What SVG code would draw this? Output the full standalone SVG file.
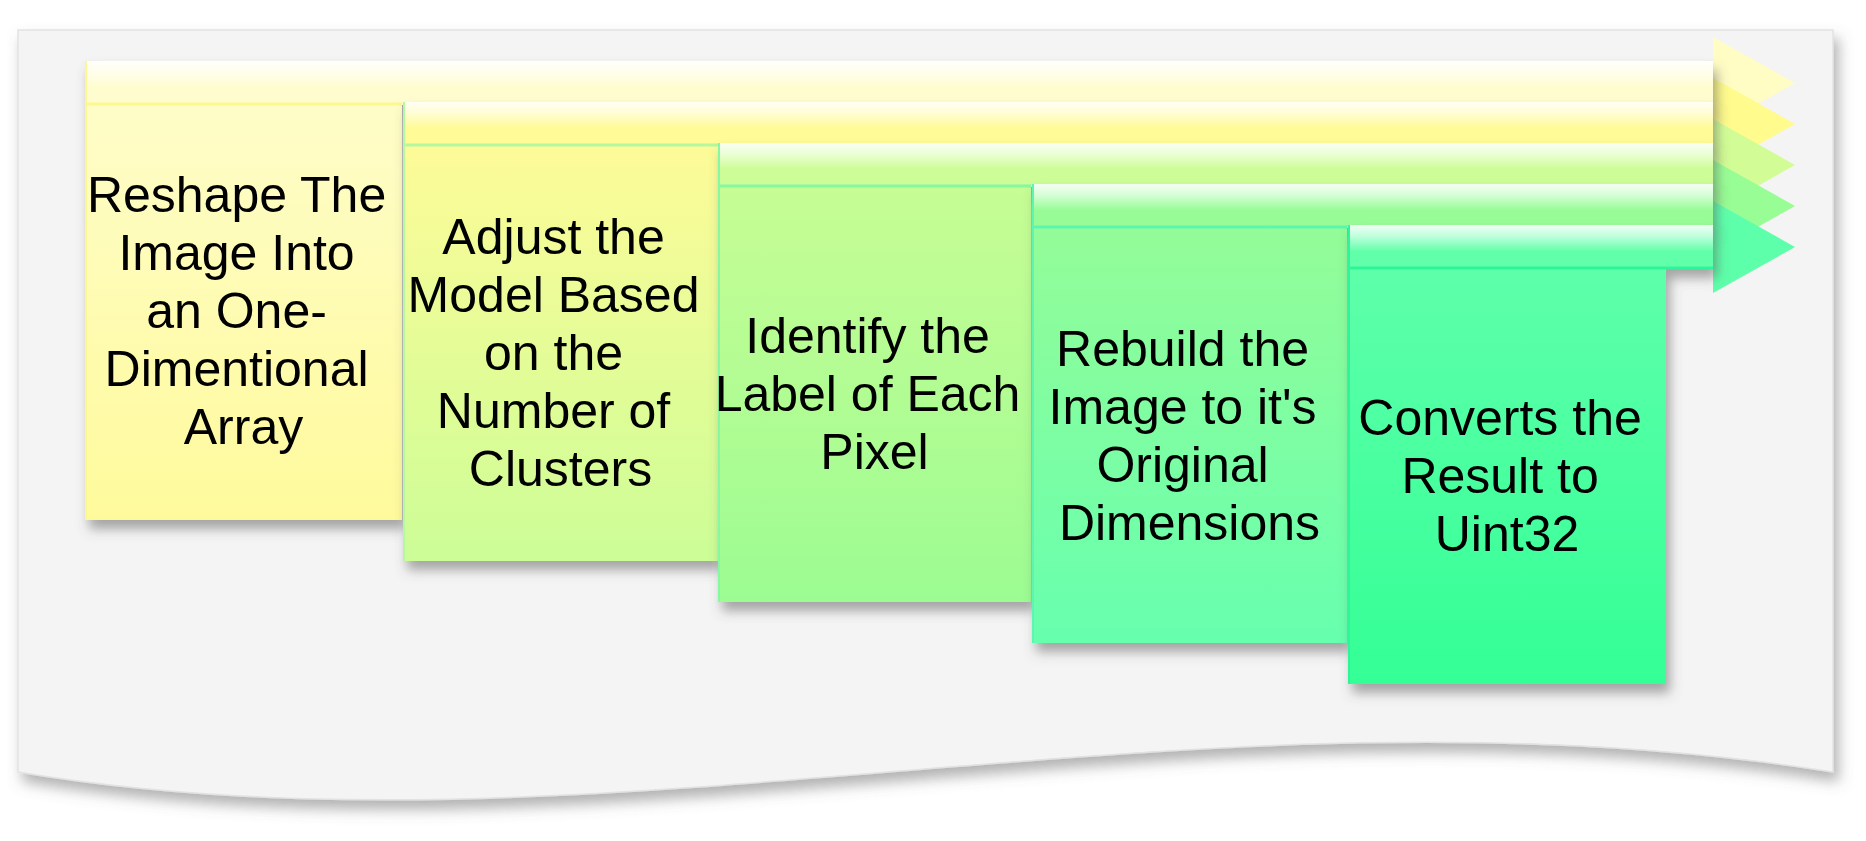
<svg xmlns="http://www.w3.org/2000/svg" width="1866" height="841" viewBox="0 0 1866 841">
  <defs>
    <style>
      .lbl { font-family: "Liberation Sans", Arial, sans-serif; font-size: 50px; fill: #000; text-anchor: middle; }
      .sep { stroke-width: 3; }
    </style>
    <filter id="panelShadow" x="-5%" y="-5%" width="110%" height="115%">
      <feDropShadow dx="5" dy="9" stdDeviation="7" flood-color="#666" flood-opacity="0.5"/>
    </filter>
    <filter id="boxShadow" x="-5%" y="-5%" width="115%" height="115%">
      <feDropShadow dx="4" dy="9" stdDeviation="6" flood-color="#555" flood-opacity="0.5"/>
    </filter>
    <linearGradient id="sheen" x1="0" y1="0" x2="0" y2="1">
      <stop offset="0" stop-color="#fff" stop-opacity="0.9"/>
      <stop offset="0.25" stop-color="#fff" stop-opacity="0.6"/>
      <stop offset="0.6" stop-color="#fff" stop-opacity="0"/>
    </linearGradient>
    <linearGradient id="g1" x1="0" y1="0" x2="0" y2="1">
      <stop offset="0" stop-color="#fefdc8"/>
      <stop offset="1" stop-color="#fefa9c"/>
    </linearGradient>
    <linearGradient id="g2" x1="0" y1="0" x2="0" y2="1">
      <stop offset="0" stop-color="#fdfb98"/>
      <stop offset="1" stop-color="#ccfd96"/>
    </linearGradient>
    <linearGradient id="g3" x1="0" y1="0" x2="0" y2="1">
      <stop offset="0" stop-color="#c6fd94"/>
      <stop offset="1" stop-color="#9cfc92"/>
    </linearGradient>
    <linearGradient id="g4" x1="0" y1="0" x2="0" y2="1">
      <stop offset="0" stop-color="#94fc98"/>
      <stop offset="1" stop-color="#66ffae"/>
    </linearGradient>
    <linearGradient id="g5" x1="0" y1="0" x2="0" y2="1">
      <stop offset="0" stop-color="#5effaa"/>
      <stop offset="1" stop-color="#34ff96"/>
    </linearGradient>
  </defs>

  <rect width="1866" height="841" fill="#ffffff"/>

  <g id="panel">
    <path d="M18,30 H1833 V772 C1200,670 600,870 18,772 Z" fill="#f4f4f4" stroke="#e2e2e2" stroke-width="1.5" filter="url(#panelShadow)"/>
  </g>

  <g id="connectors">
    <polygon points="1713,37 1795,83 1713,129" fill="#fffcc4"/>
    <polygon points="1713,78 1795,124 1713,170" fill="#fffb8c"/>
    <polygon points="1713,119 1795,165 1713,211" fill="#d2fd96"/>
    <polygon points="1713,160 1795,206 1713,252" fill="#98fd94"/>
    <polygon points="1713,201 1795,247 1713,293" fill="#5effaa"/>
  </g>

  <g id="node1">
    <path d="M85,61 H1713 V105 H402 V520 H85 Z" fill="#fffdcf" filter="url(#boxShadow)"/>
    <rect x="85" y="105" width="317" height="415" fill="url(#g1)"/>
    <rect x="85" y="61" width="1628" height="44" fill="url(#sheen)"/>
    <line class="sep" x1="85" y1="104" x2="402" y2="104" stroke="#fbf88e"/>
    <line x1="86" y1="61" x2="86" y2="520" stroke="#fbf88e" stroke-width="2"/>
    <text class="lbl" x="243.5" y="212">
      <tspan x="243.5">Reshape The</tspan>
      <tspan x="243.5" dy="58">Image Into</tspan>
      <tspan x="243.5" dy="58">an One-</tspan>
      <tspan x="243.5" dy="58">Dimentional</tspan>
      <tspan x="243.5" dy="58">Array</tspan>
    </text>
  </g>

  <g id="node2">
    <path d="M403,102 H1713 V146 H718 V561 H403 Z" fill="#fffb96" filter="url(#boxShadow)"/>
    <rect x="403" y="146" width="315" height="415" fill="url(#g2)"/>
    <rect x="403" y="102" width="1310" height="44" fill="url(#sheen)"/>
    <line class="sep" x1="403" y1="145" x2="718" y2="145" stroke="#b6f89e"/>
    <line x1="404" y1="102" x2="404" y2="561" stroke="#b6f89e" stroke-width="2"/>
    <text class="lbl" x="560.5" y="254">
      <tspan x="560.5">Adjust the</tspan>
      <tspan x="560.5" dy="58">Model Based</tspan>
      <tspan x="560.5" dy="58">on the</tspan>
      <tspan x="560.5" dy="58">Number of</tspan>
      <tspan x="560.5" dy="58">Clusters</tspan>
    </text>
  </g>

  <g id="node3">
    <path d="M718,143 H1713 V187 H1031 V602 H718 Z" fill="#cdfd96" filter="url(#boxShadow)"/>
    <rect x="718" y="187" width="313" height="415" fill="url(#g3)"/>
    <rect x="718" y="143" width="995" height="44" fill="url(#sheen)"/>
    <line class="sep" x1="718" y1="186" x2="1031" y2="186" stroke="#86f8a2"/>
    <line x1="719" y1="143" x2="719" y2="602" stroke="#86f8a2" stroke-width="2"/>
    <text class="lbl" x="874.5" y="353">
      <tspan x="874.5">Identify the</tspan>
      <tspan x="874.5" dy="58">Label of Each</tspan>
      <tspan x="874.5" dy="58">Pixel</tspan>
    </text>
  </g>

  <g id="node4">
    <path d="M1032,184 H1713 V228 H1347 V643 H1032 Z" fill="#98fc96" filter="url(#boxShadow)"/>
    <rect x="1032" y="228" width="315" height="415" fill="url(#g4)"/>
    <rect x="1032" y="184" width="681" height="44" fill="url(#sheen)"/>
    <line class="sep" x1="1032" y1="227" x2="1347" y2="227" stroke="#5cf6b0"/>
    <line x1="1033" y1="184" x2="1033" y2="643" stroke="#5cf6b0" stroke-width="2"/>
    <text class="lbl" x="1189.5" y="366">
      <tspan x="1189.5">Rebuild the</tspan>
      <tspan x="1189.5" dy="58">Image to it's</tspan>
      <tspan x="1189.5" dy="58">Original</tspan>
      <tspan x="1189.5" dy="58">Dimensions</tspan>
    </text>
  </g>

  <g id="node5">
    <path d="M1348,225 H1713 V269 H1666 V684 H1348 Z" fill="#62ffaa" filter="url(#boxShadow)"/>
    <rect x="1348" y="269" width="318" height="415" fill="url(#g5)"/>
    <rect x="1348" y="225" width="365" height="44" fill="url(#sheen)"/>
    <line class="sep" x1="1348" y1="268" x2="1713" y2="268" stroke="#2ef59a"/>
    <line x1="1349" y1="225" x2="1349" y2="684" stroke="#2ef59a" stroke-width="2"/>
    <text class="lbl" x="1507" y="435">
      <tspan x="1507">Converts the</tspan>
      <tspan x="1507" dy="58">Result to</tspan>
      <tspan x="1507" dy="58">Uint32</tspan>
    </text>
  </g>
</svg>
